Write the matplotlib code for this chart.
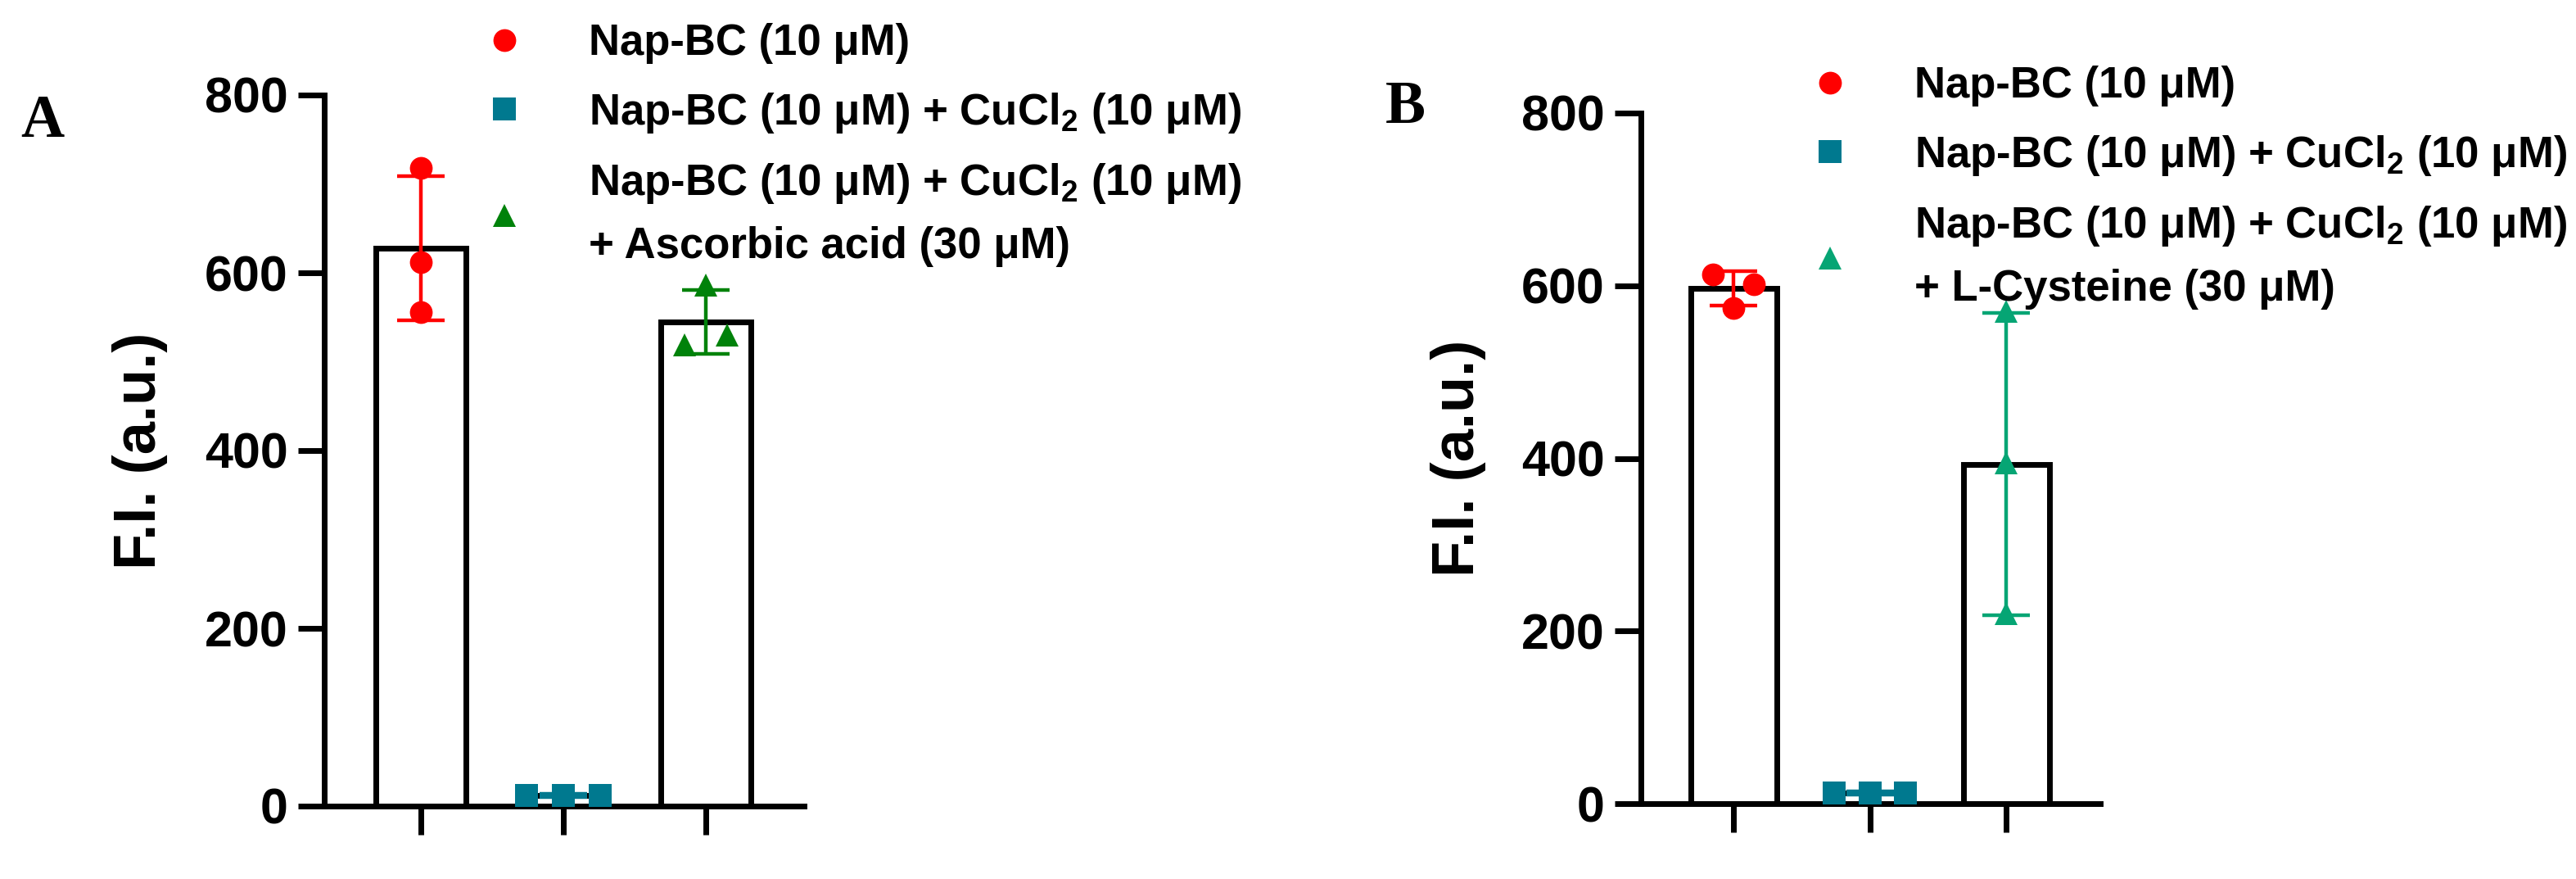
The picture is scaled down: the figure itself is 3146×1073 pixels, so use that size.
import numpy as np
import matplotlib
matplotlib.use("Agg")
import matplotlib.pyplot as plt
from matplotlib.lines import Line2D

plt.rcParams['font.family'] = ['Liberation Sans', 'DejaVu Sans']
plt.rcParams['font.weight'] = 'bold'
plt.rcParams['mathtext.fontset'] = 'custom'
plt.rcParams['mathtext.rm'] = 'Liberation Sans:bold'
plt.rcParams['mathtext.bf'] = 'Liberation Sans:bold'
plt.rcParams['mathtext.it'] = 'Liberation Sans:bold'

# ---------------- data ----------------
groups = [0, 1, 2]

# Panel A
a_means = [628, 12, 545]
a_sd = [81, 2, 36]
a_points = [[718, 612, 556], [12, 12, 12], [519, 586, 530]]

# Panel B
b_means = [597, 12, 393]
b_sd = [20, 2, 175]
b_points = [[613, 602, 574], [12, 12, 12], [570, 395, 220]]

labels_a = ["Nap-BC (10 μM)",
            "Nap-BC (10 μM) + CuCl$_2$ (10 μM)",
            "Nap-BC (10 μM) + CuCl$_2$ (10 μM)\n+ Ascorbic acid (30 μM)"]
labels_b = ["Nap-BC (10 μM)",
            "Nap-BC (10 μM) + CuCl$_2$ (10 μM)",
            "Nap-BC (10 μM) + CuCl$_2$ (10 μM)\n+ L-Cysteine (30 μM)"]

yticks = [0, 200, 400, 600, 800]
ylabel = "F.I. (a.u.)"

# ---------------- style ----------------
RED = "#FF0000"
TEAL = "#00798F"
GREEN_A = "#00820A"
GREEN_B = "#06A574"
markers = ['o', 's', '^']
a_offsets = [[0, 0, 0], [-0.26, 0, 0.26], [-0.15, 0, 0.15]]
b_offsets = [[-0.15, 0.15, 0], [-0.26, 0, 0.26], [0, 0, 0]]

W, H = 3146, 1073
fig = plt.figure(figsize=(W / 100, H / 100), dpi=100)


def px_axes(left, right, top, bottom):
    return [left / W, 1 - bottom / H, (right - left) / W, (bottom - top) / H]


axA = fig.add_axes(px_axes(396, 982, 116, 984))
axB = fig.add_axes(px_axes(2004, 2565, 138, 981))


def draw_panel(ax, means, sd, points, offsets, colors, labels, leg_anchor, label_x):
    ax.bar(groups, means, width=0.63, color='white', edgecolor='black',
           linewidth=5, zorder=1)
    for g, c, m in zip(groups, colors, markers):
        ax.errorbar(g, means[g], yerr=sd[g], fmt='none', ecolor=c,
                    elinewidth=3.2, capsize=21, capthick=3.2, zorder=3)
        xs = [g + o for o in offsets[g]]
        ax.plot(xs, points[g], linestyle='none', marker=m, color=c,
                markersize=20, markeredgewidth=0, zorder=4)
    ax.set_xlim(-0.68, 2.69)
    ax.set_ylim(0, 800)
    ax.set_yticks(yticks)
    ax.set_xticks(groups)
    ax.set_xticklabels([])
    for s in ['top', 'right']:
        ax.spines[s].set_visible(False)
    for s in ['left', 'bottom']:
        ax.spines[s].set_linewidth(5)
    ax.tick_params(axis='y', length=23, width=5, labelsize=44, pad=9)
    ax.tick_params(axis='x', length=25, width=5)
    for t in ax.get_yticklabels():
        t.set_fontweight('bold')
    ax.set_ylabel(ylabel, fontsize=52, fontweight='bold')
    ax.yaxis.set_label_coords(label_x, 0.5)

    handles = [Line2D([], [], linestyle='none', marker=m, color=c,
                      markersize=20, markeredgewidth=0)
               for m, c in zip(markers, colors)]
    leg = ax.legend(handles, labels, loc='upper left', bbox_to_anchor=leg_anchor,
                    bbox_transform=fig.transFigure, frameon=False,
                    fontsize=38, handlelength=1.0, handletextpad=1.45,
                    borderpad=0, borderaxespad=0, labelspacing=0.62)
    for t in leg.get_texts():
        t.set_linespacing(1.62)
        t.set_fontweight('bold')


draw_panel(axA, a_means, a_sd, a_points, a_offsets, [RED, TEAL, GREEN_A],
           labels_a, (590 / W, 1 - 28 / H), -0.326)
draw_panel(axB, b_means, b_sd, b_points, b_offsets, [RED, TEAL, GREEN_B],
           labels_b, (2209 / W, 1 - 80 / H), -0.337)

fig.text(52 / W, 1 - 167 / H, "A", ha='center', va='baseline',
         family='Liberation Serif', fontweight='bold', fontsize=53)
fig.text(1716 / W, 1 - 150 / H, "B", ha='center', va='baseline',
         family='Liberation Serif', fontweight='bold', fontsize=53)

fig.savefig("out.png", dpi=100, facecolor='white')
